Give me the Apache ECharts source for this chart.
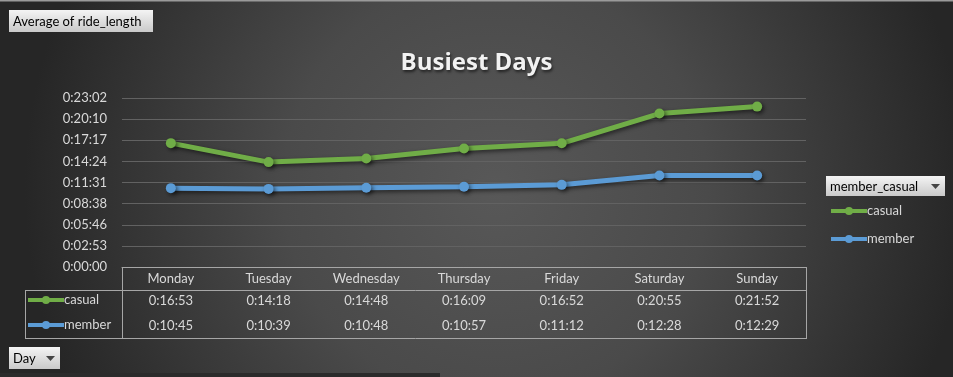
<!DOCTYPE html>
<html>
<head>
<meta charset="utf-8">
<script src="https://cdn.jsdelivr.net/npm/echarts@6/dist/echarts.min.js"></script>
<style>
html,body{margin:0;padding:0;background:#333;}
#c{width:953px;height:377px;}
</style>
</head>
<body>
<div id="c"></div>
<script>
// ---- data ----
const categories = ['Monday', 'Tuesday', 'Wednesday', 'Thursday', 'Friday', 'Saturday', 'Sunday'];
// average ride length in seconds
const casual = [1013, 858, 888, 969, 1012, 1255, 1312];
const member = [645, 639, 648, 657, 672, 748, 749];
const yTickLabels = ['0:00:00', '0:02:53', '0:05:46', '0:08:38', '0:11:31', '0:14:24', '0:17:17', '0:20:10', '0:23:02'];
const yStep = 172.8;
const yMaxVal = 1382.4;

function fmt(s) {
  const h = Math.floor(s / 3600);
  const m = Math.floor((s % 3600) / 60);
  const sec = Math.round(s % 60);
  return h + ':' + String(m).padStart(2, '0') + ':' + String(sec).padStart(2, '0');
}

const FONT = 'Lato';
const TXT = '#d9d9d9';
const GREEN = '#70ad47';
const BLUE = '#5b9bd5';
const TBL = '#a6a6a6';

function button(x, y, w, h, label, tri) {
  const children = [
    { type: 'rect', shape: { x: x, y: y, width: w, height: h },
      style: { fill: { type: 'linear', x: 0, y: 0, x2: 0, y2: 1,
        colorStops: [{ offset: 0, color: '#f4f4f4' }, { offset: 1, color: '#c9c9c9' }] } } },
    { type: 'text', style: { x: x + 4, y: y + h / 2 + 1, text: label, fill: '#000',
      font: '13px ' + FONT, verticalAlign: 'middle' } }
  ];
  if (tri) {
    const tx = x + w - 14, ty = y + h / 2 - 2;
    children.push({ type: 'polygon', shape: { points: [[tx, ty], [tx + 9, ty], [tx + 4.5, ty + 5]] },
      style: { fill: '#444' } });
  }
  return { type: 'group', children: children };
}
function ln(x1, y1, x2, y2, c, w) {
  return { type: 'line', shape: { x1: x1, y1: y1, x2: x2, y2: y2 }, style: { stroke: c || TBL, lineWidth: w || 1 } };
}

const chart = echarts.init(document.getElementById('c'));
const lineShadow = { shadowColor: 'rgba(0,0,0,0.55)', shadowBlur: 4, shadowOffsetX: 2, shadowOffsetY: 2 };
const legendCommon = {
  orient: 'vertical', itemWidth: 36, itemHeight: 10, padding: 0,
  textStyle: { color: TXT, fontSize: 13, fontFamily: FONT, padding: [0, 0, 0, -5] },
  lineStyle: { width: 4 },
  data: ['casual', 'member']
};

chart.setOption({
  animation: false,
  backgroundColor: {
    type: 'radial', x: 0.52, y: 0.5, r: 1.25,
    colorStops: [{ offset: 0, color: '#585858' }, { offset: 0.45, color: '#4a4a4a' }, { offset: 1, color: '#262626' }]
  },
  textStyle: { fontFamily: FONT },
  title: {
    text: 'Busiest Days', left: 'center', top: 46,
    textStyle: { color: '#f2f2f2', fontSize: 24, fontWeight: 'bold', fontFamily: 'Open Sans',
      textShadowColor: 'rgba(0,0,0,0.6)', textShadowBlur: 3, textShadowOffsetX: 1, textShadowOffsetY: 2 }
  },
  grid: { left: 122, right: 147, top: 98, bottom: 110 },
  legend: [
    Object.assign({ left: 829, top: 204.5, itemGap: 15 }, legendCommon),
    Object.assign({ left: 26, top: 293.5, itemGap: 12 }, legendCommon)
  ],
  xAxis: [
    { type: 'category', data: categories, boundaryGap: true,
      axisLine: { lineStyle: { color: TBL, width: 1 } }, axisTick: { show: false },
      axisLabel: { color: TXT, fontSize: 13, margin: 5, interval: 0, fontFamily: FONT },
      splitLine: { show: false } },
    { type: 'category', data: categories, position: 'bottom', offset: 23,
      axisLine: { show: false }, axisTick: { show: false },
      axisLabel: { color: TXT, fontSize: 13, margin: 4, interval: 0, fontFamily: FONT,
        formatter: (v, i) => fmt(casual[i]) } },
    { type: 'category', data: categories, position: 'bottom', offset: 48,
      axisLine: { show: false }, axisTick: { show: false },
      axisLabel: { color: TXT, fontSize: 13, margin: 4, interval: 0, fontFamily: FONT,
        formatter: (v, i) => fmt(member[i]) } }
  ],
  yAxis: {
    type: 'value', min: 0, max: yMaxVal, interval: yStep,
    axisLine: { show: false }, axisTick: { show: false },
    axisLabel: { color: TXT, fontSize: 13, margin: 15, fontFamily: FONT,
      formatter: v => yTickLabels[Math.round(v / yStep)] },
    splitLine: { lineStyle: { color: '#626262', width: 1 } }
  },
  series: [
    { name: 'casual', type: 'line', data: casual, xAxisIndex: 0, symbol: 'circle', symbolSize: 10,
      color: GREEN, lineStyle: Object.assign({ width: 5, color: GREEN }, lineShadow),
      itemStyle: Object.assign({ color: GREEN }, lineShadow) },
    { name: 'member', type: 'line', data: member, xAxisIndex: 0, symbol: 'circle', symbolSize: 10,
      color: BLUE, lineStyle: Object.assign({ width: 5, color: BLUE }, lineShadow),
      itemStyle: Object.assign({ color: BLUE }, lineShadow) }
  ],
  graphic: [
    ln(0, 0.5, 953, 0.5, '#9a9a9a', 2),
    { type: 'rect', shape: { x: 0, y: 373, width: 440, height: 4 }, style: { fill: '#2b2b2b' } },
    // data table borders
    ln(25, 290.5, 806, 290.5),
    ln(25, 338.5, 806, 338.5),
    ln(25.5, 290, 25.5, 339),
    ln(122.5, 267, 122.5, 339),
    ln(806.5, 267, 806.5, 339),
    button(9, 10, 144, 22, 'Average of ride_length', false),
    button(826, 176, 119, 20, 'member_casual', true),
    button(9, 347, 51, 22, 'Day', true)
  ]
});
</script>
</body>
</html>
